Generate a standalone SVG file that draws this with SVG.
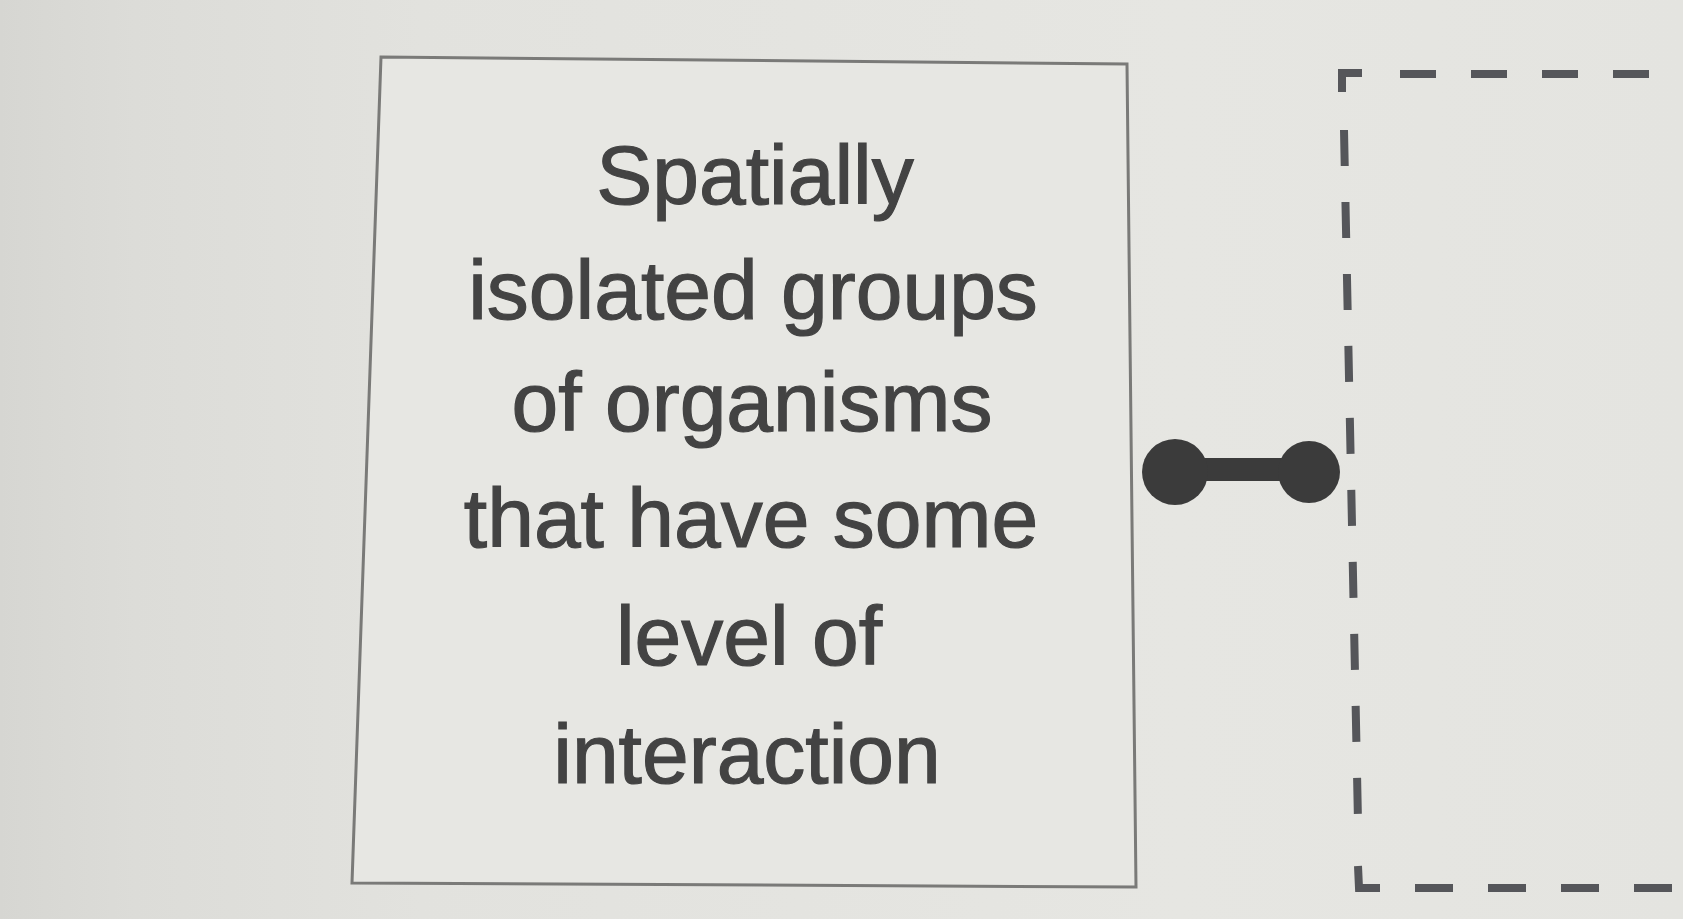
<svg xmlns="http://www.w3.org/2000/svg" width="1683" height="919" viewBox="0 0 1683 919">
<defs>
<linearGradient id="bg" x1="0" y1="0" x2="1" y2="0">
<stop offset="0" stop-color="#d6d6d2"/>
<stop offset="0.08" stop-color="#dcdcd8"/>
<stop offset="0.25" stop-color="#e2e2de"/>
<stop offset="0.7" stop-color="#e6e6e2"/>
<stop offset="1" stop-color="#e4e4e0"/>
</linearGradient>
<style>
.lbl{font-family:"Liberation Sans",Arial,sans-serif;font-size:84px;fill:#434343;stroke:#434343;stroke-width:1.2;text-anchor:middle}
.box{fill:#e7e7e3;stroke:#7a7a78;stroke-width:3}
.dash{fill:none;stroke:#55565a;stroke-width:8}
.db{fill:#3b3b3b}
</style>
</defs>
<rect x="0" y="0" width="1683" height="919" fill="url(#bg)"/>
<g id="node-populations">
<polygon class="box" points="381,57 1127,64 1136,887 352,883"/>
<text class="lbl" x="755" y="204">Spatially</text>
<text class="lbl" x="753" y="319">isolated groups</text>
<text class="lbl" x="752" y="431">of organisms</text>
<text class="lbl" x="751" y="547">that have some</text>
<text class="lbl" x="749" y="665">level of</text>
<text class="lbl" x="747" y="783">interaction</text>
</g>
<g id="connectors">
<rect class="db" x="1175" y="458" width="134" height="23"/>
<circle class="db" cx="1175" cy="472" r="33"/>
<circle class="db" cx="1309" cy="472" r="31"/>
</g>
<g id="node-dashed">
<polyline class="dash" points="1342,92 1342,73 1362,73"/>
<line class="dash" x1="1400" y1="74" x2="1683" y2="74" stroke-dasharray="36 35"/>
<line class="dash" x1="1344" y1="130" x2="1358" y2="822" stroke-dasharray="36 36"/>
<polyline class="dash" points="1358,866 1359,888 1380,888"/>
<line class="dash" x1="1415" y1="888" x2="1683" y2="888" stroke-dasharray="38 35"/>
</g>
</svg>
